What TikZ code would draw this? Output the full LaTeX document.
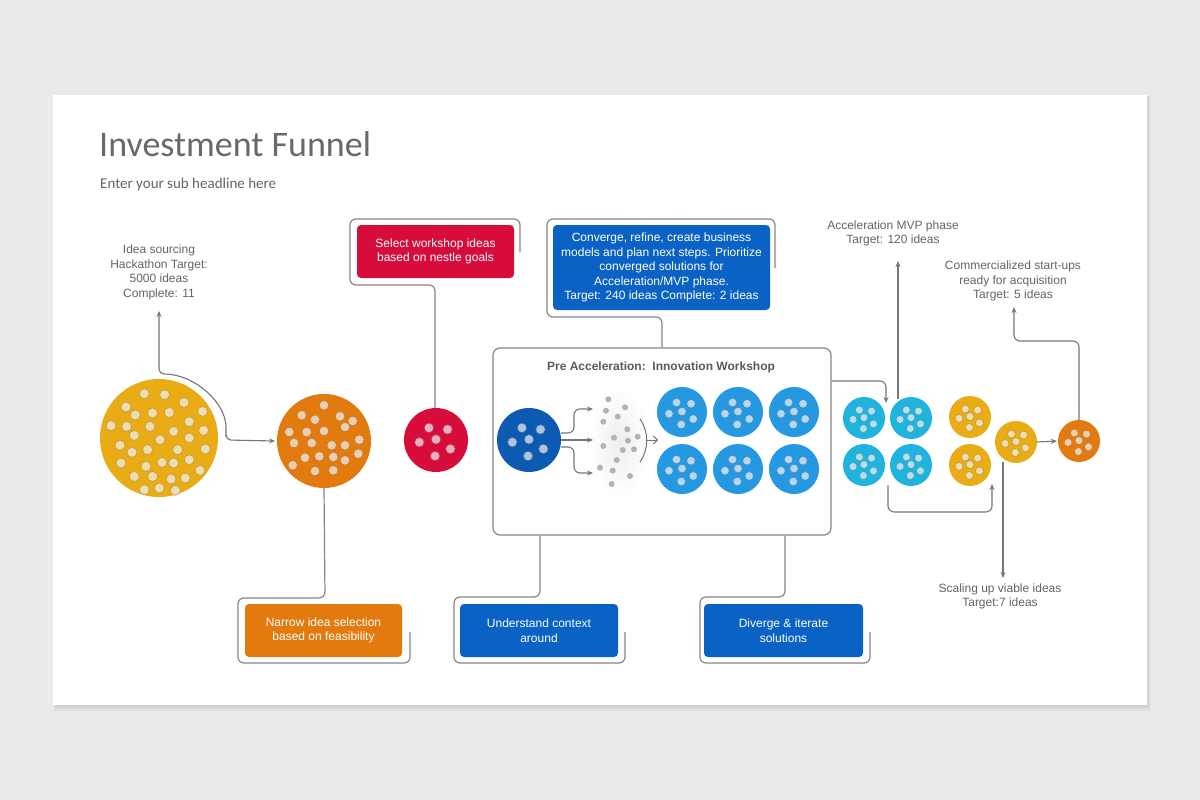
\documentclass[tikz,border=0pt]{standalone}
\usepackage{fontspec}
\setmainfont{Liberation Sans}
\newfontfamily\calib{Carlito}
\usetikzlibrary{arrows.meta}
\definecolor{bgc}{RGB}{234,234,236}
\definecolor{cyel}{RGB}{233,172,20}
\definecolor{corg}{RGB}{226,122,14}
\definecolor{cred}{RGB}{215,12,58}
\definecolor{cdblue}{RGB}{12,90,178}
\definecolor{cbox}{RGB}{10,98,196}
\definecolor{clblue}{RGB}{36,152,224}
\definecolor{ccyan}{RGB}{30,180,222}
\definecolor{lineg}{RGB}{118,118,118}
\definecolor{frameg}{RGB}{135,135,135}
\definecolor{labg}{RGB}{100,100,100}
\definecolor{titleg}{RGB}{105,105,105}
\definecolor{dotg}{RGB}{178,178,178}
\newcommand\pearls[4]{%
  \foreach \px/\py in {-.22/-.38,.36/-.33,-.52/.07,0/-.02,.45/.28,-.03/.5}
    \filldraw[pearl=#4] ([shift={(\px*#2,\py*#2)}]#1.center) circle (#3);}
\begin{document}
\begin{tikzpicture}[x=1pt,y=-1pt,
  conn/.style={draw=lineg, line width=1.1pt},
  frame/.style={draw=frameg, line width=1.2pt, rounded corners=6pt},
  arw/.style={-{Stealth[length=6pt,width=5pt]}},
  lbl/.style={align=center, text=labg, font=\fontsize{12}{14.6}\selectfont, inner sep=0pt},
  cboxs/.style={rounded corners=4pt, text=white, align=center, font=\fontsize{12}{14.6}\selectfont, inner sep=0pt},
  ball/.style={circle, inner sep=0pt, outer sep=0pt, fill=#1},
  pearl/.style={fill=#1!30!white!96!black, draw=#1!75!black!80!white, line width=0.6pt}]
\useasboundingbox (0,0) rectangle (1200,800);
\fill[bgc] (0,0) rectangle (1200,800);
\fill[black,opacity=.04] (54,96) rectangle (1151,711);
\fill[black,opacity=.06] (55,97) rectangle (1149,708);
\fill[white] (53,95) rectangle (1147,705);
% titles
\node[anchor=base west, inner sep=0pt, text=titleg, font=\calib\fontsize{36}{36}\selectfont] (title) at (99,156) {Investment Funnel};
\node[anchor=base west, inner sep=0pt, text=labg, font=\calib\fontsize{15}{15}\selectfont] (subtitle) at (100,188) {Enter your sub headline here};
% big circles
\node[ball=cyel, minimum size=118pt] (yellowBig) at (159,438) {};
\foreach \dx/\dy in {-14.7/-44.3,5.6/-43.3,25/-35.6,-33/-31,-23.7/-23,-6.4/-25,10.3/-25.6,43.6/-26.6,-48/-12.3,-32.4/-11.6,-9/-11.6,30.3/-16.3,44.6/-7.6,-24.7/-2.6,1/1.7,14.6/-6.6,30.3/0,-39/7.3,-27/14.4,-11.4/11.7,18.6/11.7,46.3/11,-38/25,-13/28.4,3/24.4,14.6/25,30.3/21.7,41/32.4,-24.7/38.4,-6.4/38.4,12/41,26.3/40,-14.7/51.7,0.3/50,16.3/52.3}
  \filldraw[pearl=cyel] ([shift={(\dx,\dy)}]yellowBig.center) circle (5);
\node[ball=corg, minimum size=94pt] (orangeC) at (324,441) {};
\foreach \dx/\dy in {0/-35.7,-22.3/-25.7,-9/-21.3,16/-24.7,28.7/-20,21/-14,-34.7/-9,-17.3/-9,0/-10,35.3/-1.3,-30/2,-12.3/2,7.7/4.3,21/4.3,-19/16.7,-4.7/15.3,9.3/16,21/19.3,34.3/12.7,-31.3/24.3,-9/30,9.3/29.3}
  \filldraw[pearl=corg] ([shift={(\dx,\dy)}]orangeC.center) circle (4.8);
\node[ball=cred, minimum size=64pt] (redC) at (436,440) {};
\pearls{redC}{32}{4.8}{cred}
\node[ball=cdblue, minimum size=64pt] (blueC) at (529,440) {};
\pearls{blueC}{32}{4.8}{cdblue}
% workshop
\node[draw=frameg, line width=1.2pt, rounded corners=7pt, minimum width=338pt, minimum height=187pt, inner sep=0pt] (ws) at (662,441.5) {};
\node[text=labg!90!black, font=\bfseries\fontsize{12}{14}\selectfont, inner sep=0pt] (wsTitle) at (661,367) {Pre Acceleration:\ \ Innovation Workshop};
\foreach \n/\cx/\cy in {lb1/682/412,lb2/738/412,lb3/794/412,lb4/682/469,lb5/738/469,lb6/794/469}{
  \node[ball=clblue, minimum size=50pt] (\n) at (\cx,\cy) {};
  \pearls{\n}{25}{4.3}{clblue}
}
% scattered dots
\shade[inner color=black!7, outer color=white] (619,442) ellipse (30 and 56);
\foreach \gx/\gy in {608.3/399.3,606/410.7,625/407.3,617.7/416.7,603.3/421.7,627.3/429.3,637.7/436.7,614/437.7,628/440.7,603.3/446,622.7/450,634/449.3,616.7/460,600/467.7,612.7/470.7,630/476,611.7/484}{
  \fill[dotg] (\gx,\gy) circle (3);
}
\draw[conn, line width=1pt] (640,419) .. controls (649,432) and (649,449) .. (640,462);
\coordinate (chevA) at (647,440);
\coordinate (chevB) at (658,440);
\draw[conn, line width=1pt, -{Straight Barb[length=4pt,width=8pt]}] (chevA) -- (chevB);
% branch arrows
\coordinate (br1) at (593,409);
\coordinate (br2) at (593,440);
\coordinate (br3) at (593,473);
\draw[conn, arw, rounded corners=6pt] ([yshift=7pt]blueC.east) -- (574,433) -- (574,409) -- (br1);
\draw[conn, arw] (blueC.east) -- (br2);
\draw[conn, arw, rounded corners=6pt] ([yshift=-7pt]blueC.east) -- (574,447) -- (574,473) -- (br3);
% right group
\foreach \n/\cx/\cy in {cy1/864/418,cy2/911/418,cy3/864/465,cy4/911/465}{
  \node[ball=ccyan, minimum size=42pt] (\n) at (\cx,\cy) {};
  \pearls{\n}{21}{4}{ccyan}
}
\foreach \n/\cx/\cy in {ys1/970/417,ys2/970/465,ys3/1016/442}{
  \node[ball=cyel, minimum size=42pt] (\n) at (\cx,\cy) {};
  \pearls{\n}{21}{4}{cyel}
}
\node[ball=corg, minimum size=42pt] (orS) at (1079,441) {};
\pearls{orS}{21}{4}{corg}
% boxes
\node[cboxs, fill=cred, minimum width=157pt, minimum height=53pt] (redBox) at (435.5,251.5) {Select workshop ideas\\based on nestle goals};
\node[cboxs, fill=cbox, minimum width=217pt, minimum height=85pt] (topBox) at (661.5,267.5) {Converge, refine, create business\\models and plan next steps. Prioritize\\converged solutions for\\Acceleration/MVP phase.\\Target: 240 ideas Complete: 2 ideas};
\node[cboxs, fill=corg, minimum width=157pt, minimum height=53pt] (narrowBox) at (323.5,630.5) {Narrow idea selection\\based on feasibility};
\node[cboxs, fill=cbox, minimum width=158pt, minimum height=53pt] (ctxBox) at (539,630.5) {Understand context\\around};
\node[cboxs, fill=cbox, minimum width=159pt, minimum height=53pt] (divBox) at (783.5,630.5) {Diverge \& iterate\\solutions};
% labels
\node[lbl] (ideaLbl) at (159,272.5) {Idea sourcing\\Hackathon Target:\\5000 ideas\\Complete: 11};
\node[lbl] (mvpLbl) at (893,233.5) {Acceleration MVP phase\\Target: 120 ideas};
\node[lbl] (comLbl) at (1013,281) {Commercialized start-ups\\ready for acquisition\\Target: 5 ideas};
\node[lbl] (scaleLbl) at (1000,596.5) {Scaling up viable ideas\\Target:7 ideas};
% connectors
\coordinate (ideaTip) at (159,311);
\draw[conn, {Stealth[length=6pt,width=5pt]}-{Stealth[length=6pt,width=5pt]}, rounded corners=5pt] (ideaTip) -- (159,374) .. controls (195.5,374) and (226,403.5) .. (226,432) -- (226,440) -- ([xshift=-2pt]orangeC.west);
\coordinate (nbEnd) at (410,632);
\draw[frame] (orangeC.south) -- (325,598) -- (238,598) -- (238,663) -- (410,663) -- (nbEnd);
\coordinate (rbEnd) at (520,252);
\draw[frame] (rbEnd) -- (520,219) -- (350,219) -- (350,285) -- (435,285) -- (redC.north -| 435,0);
\coordinate (tbEnd) at (775,268);
\draw[frame] (tbEnd) -- (775,219) -- (547,219) -- (547,317) -- (662,317) -- (ws.north);
\coordinate (ctxEnd) at (625,632);
\draw[frame] (ws.south -| 540,0) -- (540,597) -- (454,597) -- (454,663) -- (625,663) -- (ctxEnd);
\coordinate (divEnd) at (870,632);
\draw[frame] (ws.south -| 785,0) -- (785,597) -- (700,597) -- (700,663) -- (870,663) -- (divEnd);
\coordinate (cyTip) at (886,403);
\draw[conn, arw, rounded corners=6pt] (ws.east |- 0,381) -- (886,381) -- (cyTip);
\coordinate (mvpTip) at (898,261);
\draw[conn, arw] (898,399) -- (mvpTip);
\coordinate (ysTip) at (992,484);
\draw[conn, arw, rounded corners=6pt] (888,485) -- (888,512) -- (992,512) -- (ysTip);
\coordinate (scTip) at (1003,578);
\draw[conn, arw] (1003,462) -- (scTip);
\draw[conn, arw] (ys3.east) -- ([xshift=-1pt]orS.west);
\coordinate (comTip) at (1014,307);
\draw[conn, arw, rounded corners=6pt] (orS.north) -- (1079,341) -- (1014,341) -- (comTip);
\end{tikzpicture}
\end{document}
